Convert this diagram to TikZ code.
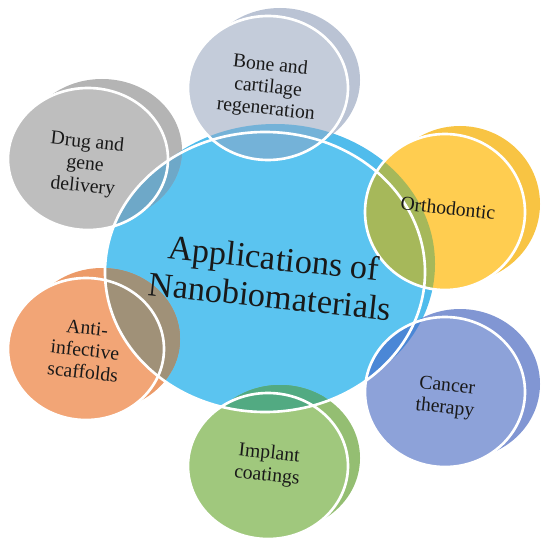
\documentclass[tikz,border=0pt]{standalone}
\usepackage{fontspec}
\setmainfont{Liberation Serif}
\definecolor{cenF}{HTML}{5BC4F0}
\definecolor{cenB}{HTML}{50BCEC}
\definecolor{boneF}{HTML}{C4CCDA}
\definecolor{boneB}{HTML}{BAC3D4}
\definecolor{boneO}{HTML}{74B2D8}
\definecolor{drugF}{HTML}{BEBEBE}
\definecolor{drugB}{HTML}{B4B4B4}
\definecolor{drugO}{HTML}{6EA8C8}
\definecolor{orthF}{HTML}{FFCD50}
\definecolor{orthB}{HTML}{F8C443}
\definecolor{orthO}{HTML}{A6B85A}
\definecolor{cancF}{HTML}{8DA2D9}
\definecolor{cancB}{HTML}{8196D3}
\definecolor{cancO}{HTML}{4B87D6}
\definecolor{implF}{HTML}{A0C87D}
\definecolor{implB}{HTML}{94BE72}
\definecolor{implO}{HTML}{52AA82}
\definecolor{antiF}{HTML}{F2A576}
\definecolor{antiB}{HTML}{EC9B69}
\definecolor{antiO}{HTML}{A09178}
\begin{document}
\begin{tikzpicture}[x=0.02cm,y=-0.02cm,
  outline/.style={draw=white,line width=1.5pt},
  lbl/.style={align=center,font=\fontsize{11.2}{12.5}\selectfont,rotate=-6,text=black!90},
  big/.style={align=center,font=\fontsize{19.5}{21.8}\selectfont,rotate=-6,text=black!90}]
\useasboundingbox (0,0) rectangle (550,550);
% central disc
\fill[cenB] (275,264) ellipse [x radius=160,y radius=140];
\fill[cenF] (265,272) ellipse [x radius=160,y radius=140];
% outer discs: back then front
\fill[boneB] (280,80) ellipse [x radius=80,y radius=72];
\fill[boneF] (268,88) ellipse [x radius=80,y radius=72];
\fill[drugB] (102,150) ellipse [x radius=80,y radius=71];
\fill[drugF] (88,159) ellipse [x radius=80,y radius=71];
\fill[orthB] (460,204) ellipse [x radius=80,y radius=78];
\fill[orthF] (445,212) ellipse [x radius=80,y radius=78];
\fill[cancB] (460,384) ellipse [x radius=80,y radius=75];
\fill[cancF] (445,392) ellipse [x radius=80,y radius=75];
\fill[implB] (280,458) ellipse [x radius=80,y radius=73];
\fill[implF] (268,466) ellipse [x radius=80,y radius=73];
\fill[antiB] (102,339) ellipse [x radius=78,y radius=71];
\fill[antiF] (86,349) ellipse [x radius=78,y radius=71];
% overlaps with the central disc
\foreach \cx/\cy in {265/272,275/264}{
  \begin{scope}
    \clip (\cx,\cy) ellipse [x radius=160,y radius=140];
    \fill[boneO] (280,80) ellipse [x radius=80,y radius=72] (268,88) ellipse [x radius=80,y radius=72];
    \fill[drugO] (102,150) ellipse [x radius=80,y radius=71] (88,159) ellipse [x radius=80,y radius=71];
    \fill[orthO] (460,204) ellipse [x radius=80,y radius=78] (445,212) ellipse [x radius=80,y radius=78];
    \fill[cancO] (460,384) ellipse [x radius=80,y radius=75] (445,392) ellipse [x radius=80,y radius=75];
    \fill[implO] (280,458) ellipse [x radius=80,y radius=73] (268,466) ellipse [x radius=80,y radius=73];
    \fill[antiO] (102,339) ellipse [x radius=78,y radius=71] (86,349) ellipse [x radius=78,y radius=71];
  \end{scope}
}
% white outlines of the front discs
\draw[outline] (265,272) ellipse [x radius=160,y radius=140];
\draw[outline] (268,88) ellipse [x radius=80,y radius=72];
\draw[outline] (88,159) ellipse [x radius=80,y radius=71];
\draw[outline] (445,212) ellipse [x radius=80,y radius=78];
\draw[outline] (445,392) ellipse [x radius=80,y radius=75];
\draw[outline] (268,466) ellipse [x radius=80,y radius=73];
\draw[outline] (86,349) ellipse [x radius=78,y radius=71];
% labels
\node[big] (center) at (272,277) {Applications of\\Nanobiomaterials};
\node[lbl] (bone) at (268,88) {Bone and\\cartilage\\regeneration};
\node[lbl] (drug) at (85,165) {Drug and\\gene\\delivery};
\node[lbl] (orth) at (448,208) {Orthodontic};
\node[lbl] (canc) at (446,398) {Cancer\\therapy};
\node[lbl] (impl) at (268,465) {Implant\\coatings};
\node[lbl] (anti) at (85,350) {Anti-\\infective\\scaffolds};
\end{tikzpicture}
\end{document}
